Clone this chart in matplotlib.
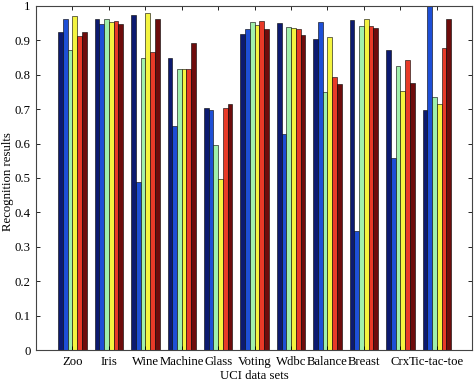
import numpy as np
import matplotlib
matplotlib.use("Agg")
import matplotlib.pyplot as plt

datasets = ["Zoo", "Iris", "Wine", "Machine", "Glass", "Voting", "Wdbc",
            "Balance", "Breast", "Crx", "Tic-tac-toe"]

# one list per method (6 bars per data set)
m1 = [0.923, 0.961, 0.974, 0.848, 0.702, 0.918, 0.951, 0.904, 0.958, 0.872, 0.697]
m2 = [0.961, 0.948, 0.489, 0.651, 0.697, 0.934, 0.629, 0.953, 0.347, 0.557, 1.000]
m3 = [0.872, 0.961, 0.850, 0.818, 0.595, 0.952, 0.938, 0.749, 0.942, 0.825, 0.735]
m4 = [0.972, 0.953, 0.979, 0.818, 0.496, 0.944, 0.936, 0.910, 0.962, 0.754, 0.716]
m5 = [0.913, 0.955, 0.867, 0.818, 0.702, 0.957, 0.934, 0.794, 0.942, 0.842, 0.879]
m6 = [0.923, 0.948, 0.961, 0.891, 0.716, 0.934, 0.916, 0.772, 0.935, 0.777, 0.962]

series = [m1, m2, m3, m4, m5, m6]
colors = ["#0c1a70", "#1e4fd6", "#a0f0ac", "#f4f440", "#e83a28", "#6e0c0c"]

plt.rcParams['font.family'] = ['Liberation Serif', 'DejaVu Serif']
fs = 9.2

fig = plt.figure(figsize=(4.74, 3.84), dpi=100)
ax = fig.add_axes([0.076, 0.0885, 0.920, 0.896])

x = np.arange(1, len(datasets) + 1)
n = len(series)
w = 0.78 / n
for i, (vals, c) in enumerate(zip(series, colors)):
    ax.bar(x + (i - (n - 1) / 2) * w, vals, width=w, color=c,
           edgecolor='black', linewidth=0.4)

ax.set_xlim(0.0, 11.97)
ax.set_ylim(0, 1)
ax.set_xticks(x)
ax.set_xticklabels(datasets, fontsize=fs)
ax.set_yticks(np.arange(0, 1.01, 0.1))
ax.set_yticklabels(["0", "0.1", "0.2", "0.3", "0.4", "0.5", "0.6", "0.7", "0.8", "0.9", "1"],
                   fontsize=fs)
ax.tick_params(direction='in', top=True, right=True, length=3, width=0.6, pad=4)
for s in ax.spines.values():
    s.set_linewidth(0.8)
    s.set_color('#444444')

ax.set_xlabel("UCI data sets", fontsize=fs, labelpad=2)
fig.text(0.017, 0.526, "Recognition results", rotation=90, fontsize=fs,
         ha='center', va='center')

fig.savefig("out.png", dpi=100)
